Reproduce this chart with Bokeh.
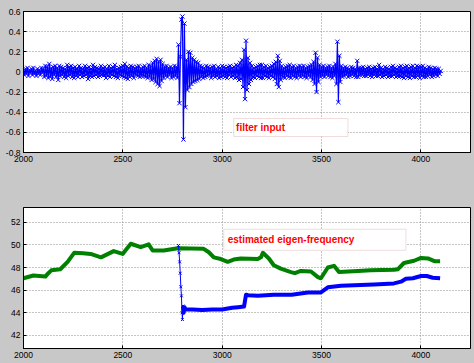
from bokeh.plotting import figure
from bokeh.layouts import column
from bokeh.models import Range1d, FixedTicker, BoxAnnotation, Label
from bokeh.embed import file_html
from bokeh.resources import INLINE

# ---------------- data ----------------
TOP_START = 2000
TOP_STEP = 5
top_signal = [
    0.01, -0.03, 0.03, -0.02, 0.04, -0.04, 0.02, -0.01, 0.03, -0.03,
    0.04, -0.02, 0.01, -0.04, 0.03, -0.02, 0.02, -0.03, 0.04, -0.01,   # 2000
    0.03, -0.05, 0.06, -0.04, 0.05, -0.06, 0.08, -0.05, 0.04, -0.07,
    0.05, -0.03, 0.06, -0.05, 0.04, -0.08, 0.06, -0.04, 0.05, -0.03,   # 2100
    0.04, -0.05, 0.03, -0.06, 0.07, -0.04, 0.05, -0.03, 0.06, -0.05,
    0.04, -0.06, 0.05, -0.04, 0.03, -0.05, 0.06, -0.03, 0.04, -0.05,   # 2200
    0.03, -0.04, 0.06, -0.03, 0.04, -0.07, 0.05, -0.04, 0.03, -0.05,
    0.07, -0.04, 0.05, -0.03, 0.04, -0.05, 0.03, -0.04, 0.06, -0.03,   # 2300
    0.04, -0.03, 0.05, -0.06, 0.03, -0.04, 0.06, -0.05, 0.04, -0.03,
    0.05, -0.04, 0.07, -0.05, 0.03, -0.06, 0.04, -0.03, 0.05, -0.04,   # 2400
    0.06, -0.05, 0.08, -0.06, 0.05, -0.07, 0.04, -0.05, 0.06, -0.04,
    0.05, -0.06, 0.04, -0.03, 0.05, -0.04, 0.06, -0.05, 0.03, -0.04,   # 2500
    0.05, -0.04, 0.06, -0.05, 0.04, -0.06, 0.07, -0.05, 0.06, -0.08,
    0.09, -0.07, 0.11, -0.10, 0.13, -0.12, 0.10, -0.14, 0.12, -0.09,   # 2600
    0.08, -0.06, 0.05, -0.04, 0.06, -0.05, 0.04, -0.03, 0.05, -0.06,
    0.04, -0.05, 0.06, -0.04, 0.05, -0.06, 0.27, -0.31, 0.15, 0.52,    # 2700
    0.55, -0.67, 0.48, -0.35, 0.12, -0.18, 0.20, -0.15, 0.19, -0.12,
    0.14, -0.10, 0.12, -0.09, 0.10, -0.08, 0.09, -0.07, 0.06, -0.05,   # 2800
    0.05, -0.06, 0.04, -0.05, 0.06, -0.04, 0.05, -0.03, 0.04, -0.06,
    0.05, -0.04, 0.06, -0.05, 0.03, -0.04, 0.05, -0.06, 0.04, -0.05,   # 2900
    0.06, -0.04, 0.05, -0.05, 0.04, -0.06, 0.05, -0.03, 0.06, -0.05,
    0.04, -0.04, 0.05, -0.06, 0.07, -0.05, 0.06, -0.08, 0.09, -0.07,   # 3000
    0.12, -0.15, 0.22, -0.27, 0.31, -0.18, 0.14, -0.12, 0.09, -0.08,
    0.06, -0.05, 0.04, -0.06, 0.05, -0.04, 0.06, -0.05, 0.07, -0.06,   # 3100
    0.07, -0.06, 0.05, -0.04, 0.06, -0.05, 0.04, -0.06, 0.05, -0.04,
    0.06, -0.05, 0.08, -0.07, 0.10, -0.12, 0.16, -0.15, 0.11, -0.08,   # 3200
    0.06, -0.05, 0.04, -0.06, 0.05, -0.04, 0.06, -0.05, 0.07, -0.06,
    0.05, -0.04, 0.06, -0.05, 0.04, -0.06, 0.05, -0.04, 0.06, -0.05,   # 3300
    0.05, -0.04, 0.06, -0.05, 0.04, -0.06, 0.05, -0.04, 0.06, -0.05,
    0.07, -0.08, 0.10, -0.12, 0.19, -0.20, 0.14, -0.10, 0.07, -0.05,   # 3400
    0.05, -0.04, 0.06, -0.05, 0.04, -0.03, 0.05, -0.04, 0.06, -0.05,
    0.04, -0.06, 0.05, -0.04, 0.08, -0.12, 0.30, -0.30, 0.16, -0.10,   # 3500
    0.06, -0.05, 0.04, -0.04, 0.05, -0.03, 0.04, -0.05, 0.03, -0.04,
    0.05, -0.03, 0.04, -0.04, 0.03, -0.05, 0.11, -0.05, 0.04, -0.03,   # 3600
    0.04, -0.03, 0.05, -0.04, 0.03, -0.04, 0.04, -0.03, 0.05, -0.04,
    0.03, -0.05, 0.04, -0.03, 0.05, -0.04, 0.03, -0.04, 0.07, -0.03,   # 3700
    0.04, -0.05, 0.03, -0.04, 0.05, -0.03, 0.04, -0.05, 0.03, -0.04,
    0.05, -0.04, 0.06, -0.03, 0.04, -0.05, 0.03, -0.04, 0.05, -0.04,   # 3800
    0.06, -0.05, 0.04, -0.06, 0.05, -0.04, 0.06, -0.05, 0.04, -0.06,
    0.05, -0.04, 0.06, -0.05, 0.04, -0.05, 0.06, -0.04, 0.05, -0.06,   # 3900
    0.05, -0.04, 0.06, -0.05, 0.04, -0.05, 0.03, -0.04, 0.05, -0.03,
    0.04, -0.05, 0.03, -0.04, 0.04, -0.03, 0.03, -0.04, 0.03, -0.02,   # 4000
    0.01,
]
top_x = [TOP_START + TOP_STEP * i for i in range(len(top_signal))]

green_x = [2000, 2050, 2110, 2125, 2140, 2185, 2222, 2255, 2300, 2338, 2390, 2454, 2499,
           2540, 2590, 2630, 2650, 2706, 2776, 2907, 2933, 2958, 2993, 3028, 3058, 3094,
           3179, 3195, 3205, 3235, 3260, 3295, 3346, 3366, 3396, 3447, 3482, 3497, 3532,
           3563, 3588, 3683, 3749, 3865, 3885, 3915, 3966, 4001, 4036, 4071, 4097]
green_y = [47.05, 47.3, 47.2, 47.5, 47.75, 47.85, 48.5, 49.3, 49.25, 49.2, 48.9, 49.45, 49.2,
           50.1, 49.8, 50.05, 49.5, 49.5, 49.7, 49.65, 49.35, 48.9, 48.75, 48.5, 48.7, 48.8,
           48.75, 48.9, 49.3, 48.8, 48.2, 47.9, 47.6, 47.5, 47.7, 47.65, 47.15, 47.05, 48.0,
           48.15, 47.6, 47.7, 47.75, 47.8, 47.85, 48.4, 48.6, 48.85, 48.8, 48.55, 48.55]

blue_x = [2780, 2783, 2786, 2789, 2792, 2795, 2798, 2800, 2803, 2806, 2810, 2815, 2850,
          2900, 2950, 3000, 3050, 3080, 3110, 3120, 3130, 3180, 3260, 3350, 3431, 3497,
          3532, 3598, 3764, 3865, 3900, 3925, 3960, 4001, 4030, 4060, 4097]
blue_y = [49.95, 49.3, 48.5, 47.5, 46.3, 45.5, 44.0, 43.4, 44.6, 44.0, 44.5, 44.3, 44.3,
          44.25, 44.3, 44.3, 44.45, 44.5, 44.55, 45.6, 45.55, 45.5, 45.6, 45.6, 45.8, 45.8,
          46.25, 46.4, 46.5, 46.6, 46.75, 47.0, 47.05, 47.25, 47.25, 47.1, 47.05]
BLUE_THIN_END = 9  # first samples (the drop) drawn thin

x_ticks = [2000, 2500, 3000, 3500, 4000]
top_y_ticks = [-0.8, -0.6, -0.4, -0.2, 0.0, 0.2, 0.4, 0.6]
top_y_labels = ["-0.8", "-0.6", "-0.4", "-0.2", "0", "0.2", "0.4", "0.6"]
bot_y_ticks = [42, 44, 46, 48, 50, 52]

top_note = "filter input"
bot_note = "estimated eigen-frequency"

# ---------------- styling ----------------
BG = "#c8c8c8"
FONT = "Liberation Sans"
TICK_SIZE = "8.5px"
BLUE = "#0000ff"
GREEN = "#008000"


def style(p, yticks, ylabels=None):
    p.background_fill_color = "white"
    p.border_fill_color = BG
    p.outline_line_color = "black"
    p.outline_line_width = 1
    p.xaxis.ticker = FixedTicker(ticks=x_ticks)
    p.yaxis.ticker = FixedTicker(ticks=yticks)
    if ylabels is not None:
        p.yaxis.major_label_overrides = {t: l for t, l in zip(yticks, ylabels)}
    for ax in p.xaxis + p.yaxis:
        ax.major_tick_in = 3
        ax.major_tick_out = 0
        ax.minor_tick_line_color = None
        ax.axis_line_color = "black"
        ax.major_tick_line_color = "black"
        ax.major_label_text_font = FONT
        ax.major_label_text_font_size = TICK_SIZE
        ax.major_label_text_color = "black"
        ax.major_label_standoff = 3
    for g in (p.xgrid, p.ygrid):
        g.grid_line_color = "#8c8c8c"
        g.grid_line_dash = "1 2"
        g.grid_line_width = 1
    p.xgrid[0].ticker = FixedTicker(ticks=x_ticks)
    p.ygrid[0].ticker = FixedTicker(ticks=yticks)


W = 474

p1 = figure(width=W, height=180, output_backend="svg", toolbar_location=None,
            x_range=Range1d(2000, 4250), y_range=Range1d(-0.8, 0.6),
            min_border_left=23, min_border_right=4, min_border_top=11, min_border_bottom=28)
style(p1, top_y_ticks, top_y_labels)
p1.line(top_x, top_signal, color=BLUE, line_width=1.2)
p1.scatter(top_x, top_signal, marker="x", size=6, color=BLUE, line_width=1)
p1.add_layout(BoxAnnotation(left=3058, right=3633, bottom=-0.641, top=-0.463,
                            fill_color="white", fill_alpha=1.0,
                            line_color="#d08a8e", line_width=1))
p1.add_layout(Label(x=3070, y=-0.552, text=top_note, text_color="#ff0000",
                    text_font=FONT, text_font_size="10px", text_font_style="bold",
                    text_baseline="middle"))

p2 = figure(width=W, height=183, output_backend="svg", toolbar_location=None,
            x_range=Range1d(2000, 4250), y_range=Range1d(40.85, 53.3),
            min_border_left=23, min_border_right=4, min_border_top=27, min_border_bottom=15)
style(p2, bot_y_ticks)
p2.line(green_x, green_y, color=GREEN, line_width=4, line_join="round")
p2.line(blue_x[:BLUE_THIN_END], blue_y[:BLUE_THIN_END], color=BLUE, line_width=1)
p2.scatter(blue_x[:BLUE_THIN_END], blue_y[:BLUE_THIN_END], marker="x", size=4,
           color=BLUE, line_width=1)
p2.line(blue_x[BLUE_THIN_END - 1:], blue_y[BLUE_THIN_END - 1:], color=BLUE, line_width=4,
        line_join="round")
p2.add_layout(BoxAnnotation(left=3008, right=3925, bottom=49.52, top=51.38,
                            fill_color="white", fill_alpha=1.0,
                            line_color="#d08a8e", line_width=1))
p2.add_layout(Label(x=3028, y=50.45, text=bot_note, text_color="#ff0000",
                    text_font=FONT, text_font_size="10px", text_font_style="bold",
                    text_baseline="middle"))

layout = column(p1, p2, spacing=0, styles={"background-color": BG})

open("out.html", "w").write(file_html(layout, INLINE))
